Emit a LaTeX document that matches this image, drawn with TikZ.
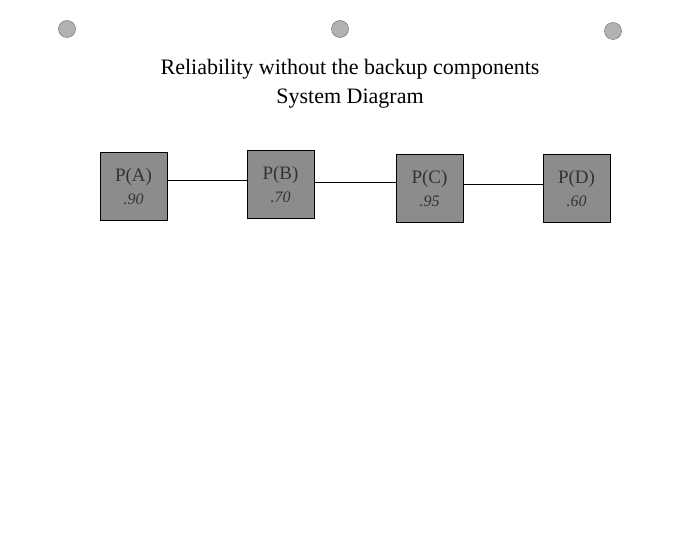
\documentclass[tikz,border=0pt]{standalone}
\usepackage{fontspec}
\setmainfont{Liberation Serif}
\begin{document}
\begin{tikzpicture}[x=1pt,y=-1pt,
  hole/.style={circle,draw=gray!80!black,fill=gray!60,minimum size=17pt,inner sep=0pt},
  comp/.style={draw=black,line width=1pt,fill=black!45,minimum width=67pt,minimum height=67pt,inner sep=0pt,align=center,font=\fontsize{19}{19}\selectfont,text=black!80},
  link/.style={line width=1pt}]
\useasboundingbox[fill=white] (0,0) rectangle (700,545);
\node[hole] (h1) at (67,29) {};
\node[hole] (h2) at (340,29) {};
\node[hole] (h3) at (613,31) {};
\node[font=\fontsize{22}{29}\selectfont,align=center] (t) at (350,84) {Reliability without the backup components\\System Diagram};
\node[comp] (a) at (133.5,186.5) {P(A)\\[4pt]{\fontsize{16}{16}\selectfont\itshape .90}};
\node[comp] (b) at (280.5,184.5) {P(B)\\[4pt]{\fontsize{16}{16}\selectfont\itshape .70}};
\node[comp] (c) at (429.5,188.5) {P(C)\\[4pt]{\fontsize{16}{16}\selectfont\itshape .95}};
\node[comp] (d) at (576.5,188.5) {P(D)\\[4pt]{\fontsize{16}{16}\selectfont\itshape .60}};
\draw[link] (a.east |- 0,181) -- (b.west |- 0,181);
\draw[link] (b.east |- 0,183) -- (c.west |- 0,183);
\draw[link] (c.east |- 0,185) -- (d.west |- 0,185);
\end{tikzpicture}
\end{document}
